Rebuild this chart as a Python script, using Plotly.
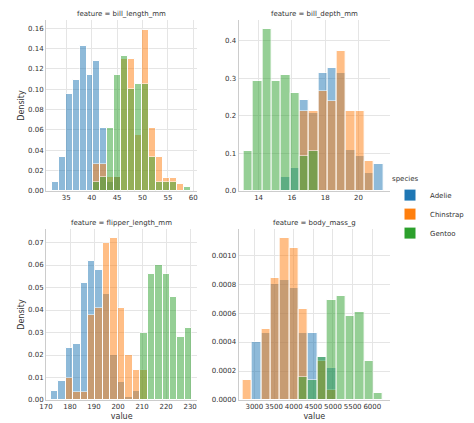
import plotly.graph_objects as go
from plotly.subplots import make_subplots

species = ["Adelie", "Chinstrap", "Gentoo"]
colors = ["#1f77b4", "#ff7f0e", "#2ca02c"]

# bill_length_mm: 20 bins
bl_start, bl_width = 32.1, 1.375
bl_adelie = [.009, .033, .095, .109, .142, .114, .128, .062, .009, .014, 0, 0, 0, 0, 0, 0, 0, 0, 0, 0]
bl_chinstrap = [0, 0, 0, 0, 0, 0, .027, .027, .014, .014, .130, .130, .055, .158, .062, .033, .013, .013, .007, 0]
bl_gentoo = [0, 0, 0, 0, 0, 0, .009, .014, .062, .114, .133, .100, .105, .105, .033, .009, .009, .009, 0, .004]

# bill_depth_mm: 15 bins
bd_start, bd_width = 13.1, 0.56
bd_adelie = [0, 0, 0, 0, .036, .060, .241, .207, .314, .327, .314, .109, .094, .047, .073]
bd_chinstrap = [0, 0, 0, 0, 0, 0, .213, .213, .266, .239, .373, .213, .213, .080, 0]
bd_gentoo = [.107, .292, .432, .292, .309, .262, .094, .107, 0, 0, 0, 0, 0, 0, 0]

# flipper_length_mm: 19 bins
fl_start, fl_width = 172, 3.1
fl_adelie = [.004, .0085, .023, .025, .052, .062, .058, .047, .020, .008, .0015, .004, 0, 0, 0, 0, 0, 0, 0]
fl_chinstrap = [0, 0, .010, .0035, .0035, .038, .041, .070, .072, .041, .020, .0135, .0135, 0, 0, 0, 0, 0, 0]
fl_gentoo = [0, 0, 0, 0, 0, 0, 0, 0, 0, 0, 0, 0, .030, .056, .060, .056, .046, .028, .032]

# body_mass_g: 15 bins
bm_start, bm_width = 2700, 238
bm_adelie = [0, .0004, .00046, .0008, .00083, .00077, .00046, .00046, .0003, .00022, 0, 0, 0, 0, 0]
bm_chinstrap = [.00014, 0, .00049, .00084, .00112, .00105, .00063, 0, .00027, .00007, 0, 0, 0, 0, 0]
bm_gentoo = [0, 0, 0, 0, 0, 0, .00016, .00014, .0003, .00069, .00072, .00058, .00061, .00027, .00005]

panels = [
    ("bill_length_mm", bl_start, bl_width, [bl_adelie, bl_chinstrap, bl_gentoo], 1, 1),
    ("bill_depth_mm", bd_start, bd_width, [bd_adelie, bd_chinstrap, bd_gentoo], 1, 2),
    ("flipper_length_mm", fl_start, fl_width, [fl_adelie, fl_chinstrap, fl_gentoo], 2, 1),
    ("body_mass_g", bm_start, bm_width, [bm_adelie, bm_chinstrap, bm_gentoo], 2, 2),
]

fig = make_subplots(rows=2, cols=2, subplot_titles=[f"feature = {p[0]}" for p in panels],
                    horizontal_spacing=0.12, vertical_spacing=0.1)

for name, start, width, series, r, c in panels:
    centers = [start + width * (i + 0.5) for i in range(len(series[0]))]
    for k, vals in enumerate(series):
        fig.add_trace(go.Bar(
            x=centers, y=vals, width=width, name=species[k],
            marker=dict(color=colors[k], opacity=0.5, line=dict(color="white", width=1)),
            showlegend=(r == 1 and c == 1), legendgroup=species[k]
        ), row=r, col=c)

fig.update_xaxes(showgrid=True, gridcolor="#e5e5e5", showline=True, linecolor="#ccc",
                 ticks="", tickfont=dict(size=7), tickangle=0, zeroline=False)
fig.update_yaxes(showgrid=True, gridcolor="#e5e5e5", showline=True, linecolor="#ccc",
                 tickfont=dict(size=7), zeroline=False, rangemode="tozero")
fig.update_xaxes(title_text="value", title_font=dict(size=8), title_standoff=2, row=2)
fig.update_yaxes(title_text="Density", title_font=dict(size=8), title_standoff=2, col=1)
fig.update_xaxes(tickvals=[35, 40, 45, 50, 55, 60], range=[31, 60.8], row=1, col=1)
fig.update_xaxes(tickvals=[14, 16, 18, 20], range=[12.8, 21.9], row=1, col=2)
fig.update_xaxes(tickvals=[170, 180, 190, 200, 210, 220, 230], range=[170, 233], row=2, col=1)
fig.update_xaxes(tickvals=[3000, 3500, 4000, 4500, 5000, 5500, 6000], range=[2600, 6450], row=2, col=2)
fig.update_yaxes(range=[0, 0.168], dtick=0.02, tickformat=".2f", row=1, col=1)
fig.update_yaxes(range=[0, 0.455], dtick=0.1, tickformat=".1f", row=1, col=2)
fig.update_yaxes(range=[0, 0.076], dtick=0.01, tickformat=".2f", row=2, col=1)
fig.update_yaxes(range=[0, 0.00118], dtick=0.0002, tickformat=".4f", row=2, col=2)

for a in fig.layout.annotations:
    a.font = dict(size=7, color="#333")

fig.update_layout(
    width=474, height=423, barmode="overlay", bargap=0,
    paper_bgcolor="white", plot_bgcolor="white",
    font=dict(family="DejaVu Sans", size=7, color="#333"),
    margin=dict(l=36, r=60, t=12, b=28),
    legend=dict(title=dict(text="species", font=dict(size=7)), x=1.0, y=0.5,
                xanchor="left", yanchor="middle", font=dict(size=7),
                itemwidth=30, tracegroupgap=0),
)

fig.write_html("out.html")
